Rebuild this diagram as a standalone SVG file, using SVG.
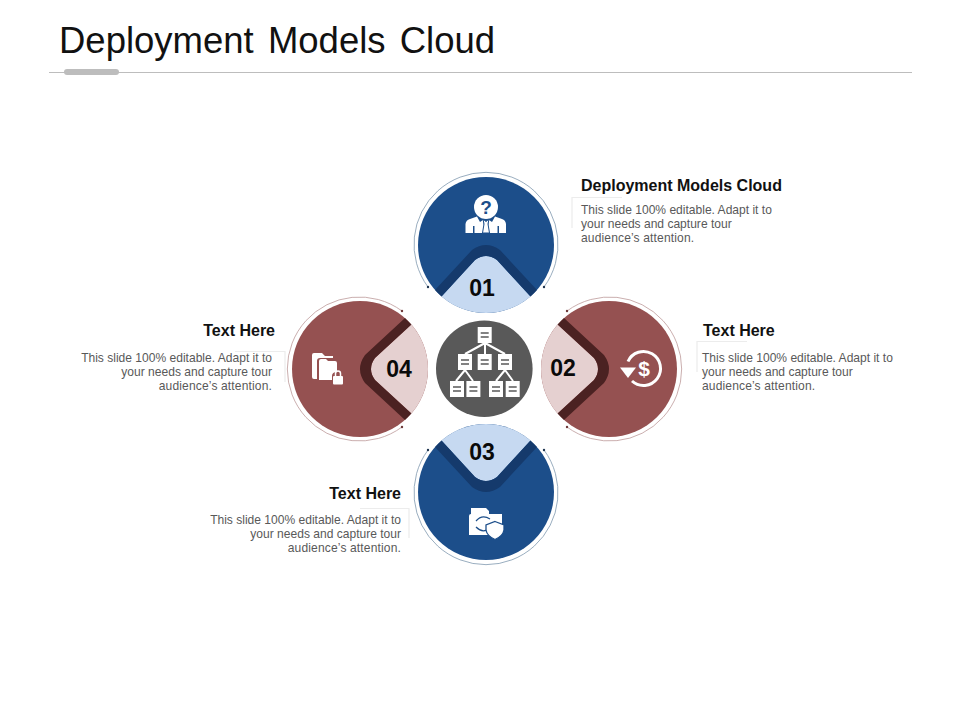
<svg xmlns="http://www.w3.org/2000/svg" width="960" height="720" viewBox="0 0 960 720">
<style>
text{font-family:"Liberation Sans",Arial,sans-serif}
.title{font-size:36.5px;fill:#111;word-spacing:4px}
.head{font-size:16px;font-weight:700;fill:#111}
.body{font-size:12.05px;fill:#595959}
.l3{letter-spacing:.14px}
.num{font-size:23px;font-weight:700;fill:#0a0a0a;text-anchor:middle}
.end{text-anchor:end}
.bracket{fill:none;stroke:#ececec;stroke-width:1.2}
.ring{fill:none;stroke-width:.8}
.blue .main{fill:#1c4e8a}.blue .band{fill:#153a6c}.blue .wedge{fill:#c6d9f1}.blue .ring{stroke:#7f98ae}.blue .dot{fill:#1f3550}
.red .main{fill:#955151}.red .band{fill:#4b2222}.red .wedge{fill:#e5d0d0}.red .ring{stroke:#bd9999}.red .dot{fill:#6e3a3a}
.w{fill:#fff}
.link{stroke:#fff;stroke-width:2;fill:none}
</style>
<defs>
<circle id="pm" r="68"/>
<path id="pw" d="M-44.500 51.400L-11 15Q0 7 11 15L44.500 51.400A68 68 0 0 1-44.500 51.400Z"/>
<path id="pb" d="M-51 45L-14 5Q0-5 14 5L51 45L44.500 51.400L11 15Q0 7-11 15L-44.500 51.400Z"/>
<path id="pr" d="M-58 42A72 72 0 1 1 58 42"/>
<circle id="pd" r="1.200"/>
<g id="orgbox"><rect x="-7" y="-8" width="14" height="16" fill="#fff"/><path d="M-4-2H4M-4 2H4" stroke="#595959" stroke-width="1.500" fill="none"/></g>
</defs>

<g id="header">
<text class="title" x="59" y="53">Deployment Models Cloud</text>
<path d="M49 72.500H912" stroke="#bdbdbd" stroke-width="1"/>
<rect x="64" y="69" width="55" height="6" rx="3" fill="#bdbdbd"/>
</g>

<g id="node-center">
<circle cx="484.300" cy="368.700" r="48.300" fill="#595959"/>
<path class="link" d="M485 343L465 354M485 343V354M485 343L505 354M465 370L456 381M465 370L473 381M505 370L496 381M505 370L513 381"/>
<use href="#orgbox" x="484.700" y="335"/>
<use href="#orgbox" x="465" y="362"/><use href="#orgbox" x="484.700" y="362"/><use href="#orgbox" x="505" y="362"/>
<use href="#orgbox" x="457" y="389"/><use href="#orgbox" x="473.400" y="389"/><use href="#orgbox" x="496" y="389"/><use href="#orgbox" x="512.700" y="389"/>
</g>

<g id="node-01" class="blue">
<g transform="translate(486 245)">
<use href="#pm" class="main"/><use href="#pw" class="wedge"/><use href="#pb" class="band"/><use href="#pr" class="ring"/><use href="#pd" class="dot" x="-58" y="42"/><use href="#pd" class="dot" x="58" y="42"/>
</g>
<text class="num" x="482" y="296">01</text>
<circle class="w" cx="486" cy="207" r="12"/>
<text x="486" y="214" text-anchor="middle" font-size="19" font-weight="700" fill="#1c4e8a">?</text>
<path class="w" d="M465.500 233V224Q466 220 470 219L477 216.500L480 222L483 220L485 233H487L489 220L492 222L495 216.500L502 219Q505.500 220 506 224V233H499V226H497.500V233H474.500V226H473V233Z"/>
<path d="M483 219L486 221.500L489 219L488 224L489.500 233H482.500L484 224Z" fill="#fff" stroke="#1c4e8a" stroke-width="1"/>
<path class="bracket" d="M572 228V197.500H622"/>
<text class="head" x="581" y="190.500">Deployment Models Cloud</text>
<text class="body" x="581" y="214">This slide 100% editable. Adapt it to</text>
<text class="body" x="581" y="228">your needs and capture tour</text>
<text class="body l3" x="581" y="242">audience’s attention.</text>
</g>

<g id="node-02" class="red">
<g transform="translate(609 369) rotate(90)">
<use href="#pm" class="main"/><use href="#pw" class="wedge"/><use href="#pb" class="band"/><use href="#pr" class="ring"/><use href="#pd" class="dot" x="-58" y="42"/><use href="#pd" class="dot" x="58" y="42"/>
</g>
<text class="num" x="563" y="376">02</text>
<path d="M628 361.500A17 17 0 1 1 632 381" fill="none" stroke="#fff" stroke-width="3"/>
<path class="w" d="M620 367.500H636L628 378Z"/>
<text x="644" y="376" text-anchor="middle" font-size="21" font-weight="700" fill="#fff">$</text>
<path class="bracket" d="M697 372V341.500H747"/>
<text class="head" x="703" y="335.500">Text Here</text>
<text class="body" x="702" y="362">This slide 100% editable. Adapt it to</text>
<text class="body" x="702" y="376">your needs and capture tour</text>
<text class="body l3" x="702" y="390">audience’s attention.</text>
</g>

<g id="node-03" class="blue">
<g transform="translate(486 492) rotate(180)">
<use href="#pm" class="main"/><use href="#pw" class="wedge"/><use href="#pb" class="band"/><use href="#pr" class="ring"/><use href="#pd" class="dot" x="-58" y="42"/><use href="#pd" class="dot" x="58" y="42"/>
</g>
<text class="num" x="482" y="460">03</text>
<path class="w" d="M471 508H486L489 511V514H502V530H497V535H469V516Q469 514 471 514Z"/>
<path d="M476 521Q482 514 490 519M490 528Q483 534 476 527" fill="none" stroke="#1c4e8a" stroke-width="1.200"/>
<path d="M495 521.500L504 525V530Q503 536 495 539.500Q487 536 486 530V525Z" fill="#fff" stroke="#1c4e8a" stroke-width="1.300"/>
<path class="bracket" d="M409 538V508.500H360"/>
<text class="head end" x="401" y="498.500">Text Here</text>
<text class="body end" x="401" y="524">This slide 100% editable. Adapt it to</text>
<text class="body end" x="401" y="538">your needs and capture tour</text>
<text class="body end l3" x="401" y="552">audience’s attention.</text>
</g>

<g id="node-04" class="red">
<g transform="translate(360 369) rotate(-90)">
<use href="#pm" class="main"/><use href="#pw" class="wedge"/><use href="#pb" class="band"/><use href="#pr" class="ring"/><use href="#pd" class="dot" x="-58" y="42"/><use href="#pd" class="dot" x="58" y="42"/>
</g>
<text class="num" x="399" y="377">04</text>
<path class="w" d="M312 355Q312 353 314 353H322L325 356H333V358H320Q317 358 317 361V379H314Q312 379 312 377Z"/>
<path class="w" d="M319 361Q319 359 321 359H326L328 361H335Q337 361 337 363V372Q332 372 332 376V380H319Z"/>
<rect class="w" x="333" y="376" width="10" height="8.500" rx="1"/>
<path d="M335.500 376V373.500A2.500 2.500 0 0 1 340.500 373.500V376" fill="none" stroke="#fff" stroke-width="1.500"/>
<path class="bracket" d="M285 382V351.500H235"/>
<text class="head end" x="275" y="335.500">Text Here</text>
<text class="body end" x="272" y="362">This slide 100% editable. Adapt it to</text>
<text class="body end" x="272" y="376">your needs and capture tour</text>
<text class="body end l3" x="272" y="390">audience’s attention.</text>
</g>
</svg>
